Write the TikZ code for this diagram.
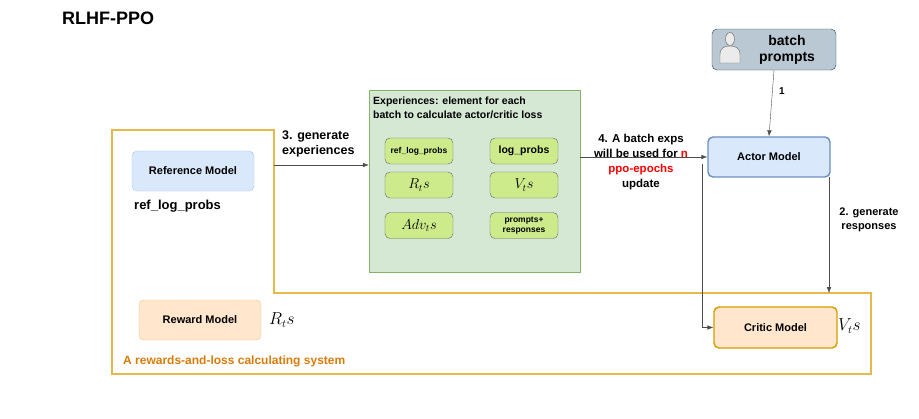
\documentclass[tikz,border=0pt]{standalone}
\usepackage{fontspec}
\setmainfont{Liberation Sans}
\usetikzlibrary{arrows.meta}
\definecolor{ofr}{HTML}{E8B84A}
\definecolor{otx}{HTML}{D97B0A}
\tikzset{
  box/.style={draw, rounded corners=5pt, align=center, font=\bfseries\fontsize{11}{13}\selectfont, inner sep=0pt},
  cell/.style={box, draw=black!60, minimum width=68pt, minimum height=26pt, fill={rgb,255:red,205;green,235;blue,139}},
  lbl/.style={font=\bfseries\fontsize{12.5}{15}\selectfont, align=left},
  arr/.style={draw=black!70, -{Latex[length=6pt,width=4.5pt]}},
}
\begin{document}
\begin{tikzpicture}[x=1pt,y=-1pt]
\useasboundingbox (0,0) rectangle (919,418);
\node[font=\bfseries\fontsize{18}{20}\selectfont, anchor=west, inner sep=0pt] (title) at (62,18) {RLHF-PPO};
% orange frame
\draw[ofr, line width=1.3pt] (112,130) -- (274,130) -- (274,293) -- (871,293) -- (871,374) -- (112,374) -- cycle;
\node[box, fill={rgb,255:red,218;green,232;blue,252}, draw={rgb,255:red,169;green,196;blue,235}, minimum width=122pt, minimum height=40pt] (ref) at (193,171) {Reference Model};
\node[lbl, anchor=west, inner sep=0pt, font=\bfseries\fontsize{13}{15}\selectfont] (reflp) at (134,206) {ref\_log\_probs};
\node[box, fill={rgb,255:red,255;green,230;blue,204}, draw={rgb,255:red,244;green,192;blue,127}, minimum width=122pt, minimum height=40pt] (rew) at (200,320) {Reward Model};
\node[anchor=west, inner sep=0pt, font=\fontsize{16}{18}\selectfont] (rts) at (269,320) {$R_ts$};
\node[anchor=west, inner sep=0pt, text=otx, font=\bfseries\fontsize{12}{14}\selectfont] (sys) at (123,361) {A rewards-and-loss calculating system};
% experiences
\node[draw={rgb,255:red,130;green,179;blue,102}, fill={rgb,255:red,213;green,232;blue,212}, minimum width=211pt, minimum height=182pt, inner sep=0pt] (exp) at (474.5,181) {};
\node[anchor=north west, inner sep=0pt, align=left, font=\bfseries\fontsize{10.5}{14}\selectfont] (expt) at (373,97) {Experiences: element for each\\batch to calculate actor/critic loss};
\node[cell, font=\bfseries\fontsize{8.5}{10}\selectfont] (c1) at (419,151) {ref\_log\_probs};
\node[cell, font=\fontsize{14}{16}\selectfont] (c2) at (419,185) {$R_ts$};
\node[cell, font=\fontsize{14}{16}\selectfont] (c3) at (419,225.5) {$Adv_ts$};
\node[cell, font=\bfseries\fontsize{10.5}{12}\selectfont] (c4) at (524,151) {log\_probs};
\node[cell, font=\fontsize{14}{16}\selectfont] (c5) at (524,185) {$V_ts$};
\node[cell, font=\bfseries\fontsize{8.5}{10}\selectfont] (c6) at (524,225.5) {prompts+\\responses};
% right side
\node[box, fill={rgb,255:red,218;green,232;blue,252}, draw={rgb,255:red,108;green,142;blue,191}, line width=1.4pt, minimum width=122pt, minimum height=40pt] (actor) at (769,157) {Actor Model};
\node[box, fill={rgb,255:red,186;green,200;blue,211}, draw={rgb,255:red,35;green,68;blue,93}, minimum width=124pt, minimum height=41pt, font=\bfseries\fontsize{14}{16}\selectfont] (bp) at (774,49.5) {\hspace{26pt}batch\\\hspace{26pt}prompts};
\fill[white!92!black, draw=black!60] (720,63) -- (720,55) .. controls (720,48) and (724,46) .. (730,46) .. controls (736,46) and (740,48) .. (740,55) -- (740,63) -- cycle;
\draw[fill=white!92!black, draw=black!60] (730,39) ellipse (4.5 and 6.5);
\node[box, fill={rgb,255:red,255;green,230;blue,204}, draw={rgb,255:red,215;green,155;blue,0}, line width=1.4pt, minimum width=123pt, minimum height=41pt] (critic) at (775.5,327.5) {Critic Model};
\node[anchor=west, inner sep=0pt, font=\fontsize{16}{18}\selectfont] (vts) at (838,326) {$V_ts$};
% connectors
\coordinate (frtop) at (274,165);
\draw[arr] (frtop) -- (exp.west |- frtop);
\node[lbl, anchor=north west, inner sep=0pt] (l3) at (282,131) {3. generate\\experiences};
\coordinate (e4) at (exp.east |- actor.west);
\draw[arr] (e4) -- (actor.west);
\node[lbl, align=center, font=\bfseries\fontsize{11.5}{15}\selectfont] (l4) at (641,162) {4. A batch exps\\will be used for \textcolor{red}{n}\\\textcolor{red}{ppo-epochs}\\update};
\coordinate (split) at (702,164);
\draw[arr] (split) |- (critic.west);
\draw[arr] (bp.south) -- (actor.north);
\node[lbl, font=\bfseries\fontsize{10}{12}\selectfont] (l1) at (782,91) {1};
\coordinate (a2) at (829,177);
\coordinate (a2e) at (829,293);
\draw[arr] (a2) -- (a2e);
\node[lbl, align=center, font=\bfseries\fontsize{11}{14}\selectfont] (l2) at (869,220) {2. generate\\responses};
\end{tikzpicture}
\end{document}
